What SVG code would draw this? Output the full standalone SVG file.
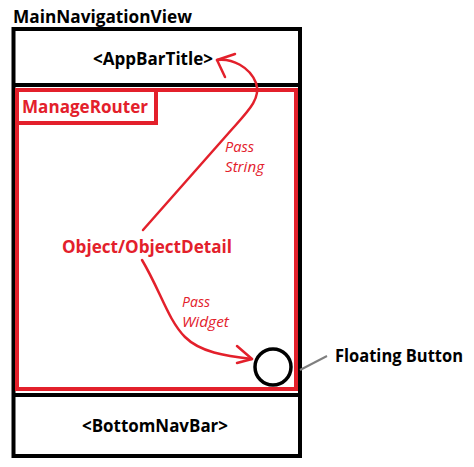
<svg xmlns="http://www.w3.org/2000/svg" width="474" height="467" viewBox="0 0 474 467">
<style>
.b{font-family:"Open Sans","Liberation Sans",sans-serif;font-weight:bold;font-size:17px;fill:#000}
.r{font-family:"Open Sans","Liberation Sans",sans-serif;font-weight:bold;font-size:17px;fill:#e3202b}
.i{font-family:"Open Sans","Liberation Sans",sans-serif;font-style:italic;font-size:14px;fill:#e3202b}
.ln{fill:none;stroke:#e3202b;stroke-width:2.5;stroke-linecap:round;stroke-linejoin:round}
</style>
<rect width="474" height="467" fill="#fff"/>
<g id="main-navigation-view">
<text class="b" x="13" y="23" textLength="179" lengthAdjust="spacingAndGlyphs">MainNavigationView</text>
<rect x="13.5" y="29" width="286.5" height="427" fill="none" stroke="#000" stroke-width="4"/>
</g>
<g id="app-bar">
<line x1="13.5" y1="85" x2="300" y2="85" stroke="#000" stroke-width="4"/>
<text class="b" x="93" y="65" textLength="120" lengthAdjust="spacingAndGlyphs">&lt;AppBarTitle&gt;</text>
</g>
<g id="manage-router">
<rect x="17" y="90" width="279" height="299" fill="none" stroke="#e3202b" stroke-width="4"/>
<rect x="17" y="90" width="139" height="33" fill="none" stroke="#e3202b" stroke-width="4"/>
<text class="r" x="22" y="113" textLength="126" lengthAdjust="spacingAndGlyphs">ManageRouter</text>
</g>
<g id="object-detail">
<text class="r" x="62" y="253" textLength="170" lengthAdjust="spacingAndGlyphs">Object/ObjectDetail</text>
</g>
<g id="bottom-nav-bar">
<line x1="13.5" y1="395" x2="300" y2="395" stroke="#000" stroke-width="4"/>
<text class="b" x="82" y="432" textLength="146" lengthAdjust="spacingAndGlyphs">&lt;BottomNavBar&gt;</text>
</g>
<g id="floating-button">
<circle cx="273" cy="367" r="18" fill="none" stroke="#000" stroke-width="3.5"/>
<text class="b" x="335" y="362" textLength="128" lengthAdjust="spacingAndGlyphs">Floating Button</text>
</g>
<g id="connectors">
<path class="ln" d="M143,230 L226,136 C245,114 262,100 256,83 C250,67 232,58 217,60"/>
<path class="ln" d="M235,54 L217,60 L225,77"/>
<path class="ln" d="M142,260 C160,290 168,320 185,337 C200,352 225,356 252,359"/>
<path class="ln" d="M237,346 L252,359 L237,363"/>
<line x1="300" y1="370" x2="327" y2="356" stroke="#7f7f7f" stroke-width="2"/>
<text class="i" x="225" y="152" textLength="29" lengthAdjust="spacingAndGlyphs">Pass</text>
<text class="i" x="225" y="172" textLength="39" lengthAdjust="spacingAndGlyphs">String</text>
<text class="i" x="182" y="307" textLength="28" lengthAdjust="spacingAndGlyphs">Pass</text>
<text class="i" x="182" y="327" textLength="47" lengthAdjust="spacingAndGlyphs">Widget</text>
</g>
</svg>
